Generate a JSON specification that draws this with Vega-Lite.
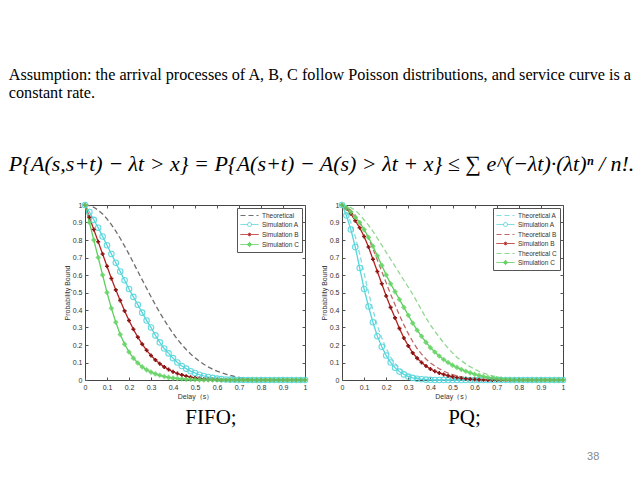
{
  "$schema": "https://vega.github.io/schema/vega-lite/v6.json",
  "background": "white",
  "padding": {"left": 8, "top": 67, "right": 0, "bottom": 0},
  "title": {"text": "38", "orient": "bottom", "anchor": "end", "fontSize": 11, "color": "#888888", "font": "Liberation Sans", "fontWeight": "normal", "offset": 22, "dx": -41},
  "datasets": {
    "fifo": [
      {"x":0,"Theoretical":1,"Simulation A":1,"Simulation B":1,"Simulation C":1},
      {"x":0.02,"Theoretical":0.997,"Simulation A":0.96,"Simulation B":0.93,"Simulation C":0.9},
      {"x":0.04,"Theoretical":0.987,"Simulation A":0.915,"Simulation B":0.86,"Simulation C":0.8},
      {"x":0.06,"Theoretical":0.971,"Simulation A":0.87,"Simulation B":0.79,"Simulation C":0.7},
      {"x":0.08,"Theoretical":0.949,"Simulation A":0.82,"Simulation B":0.72,"Simulation C":0.6},
      {"x":0.1,"Theoretical":0.921,"Simulation A":0.77,"Simulation B":0.65,"Simulation C":0.5},
      {"x":0.12,"Theoretical":0.888,"Simulation A":0.72,"Simulation B":0.58,"Simulation C":0.41},
      {"x":0.14,"Theoretical":0.851,"Simulation A":0.67,"Simulation B":0.515,"Simulation C":0.33},
      {"x":0.16,"Theoretical":0.81,"Simulation A":0.62,"Simulation B":0.455,"Simulation C":0.26},
      {"x":0.18,"Theoretical":0.765,"Simulation A":0.57,"Simulation B":0.395,"Simulation C":0.205},
      {"x":0.2,"Theoretical":0.719,"Simulation A":0.52,"Simulation B":0.34,"Simulation C":0.16},
      {"x":0.22,"Theoretical":0.67,"Simulation A":0.475,"Simulation B":0.29,"Simulation C":0.125},
      {"x":0.24,"Theoretical":0.621,"Simulation A":0.43,"Simulation B":0.245,"Simulation C":0.097},
      {"x":0.26,"Theoretical":0.572,"Simulation A":0.385,"Simulation B":0.205,"Simulation C":0.075},
      {"x":0.28,"Theoretical":0.524,"Simulation A":0.34,"Simulation B":0.17,"Simulation C":0.058},
      {"x":0.3,"Theoretical":0.476,"Simulation A":0.3,"Simulation B":0.14,"Simulation C":0.045},
      {"x":0.32,"Theoretical":0.429,"Simulation A":0.255,"Simulation B":0.115,"Simulation C":0.035},
      {"x":0.34,"Theoretical":0.385,"Simulation A":0.215,"Simulation B":0.093,"Simulation C":0.027},
      {"x":0.36,"Theoretical":0.343,"Simulation A":0.18,"Simulation B":0.075,"Simulation C":0.02},
      {"x":0.38,"Theoretical":0.304,"Simulation A":0.152,"Simulation B":0.06,"Simulation C":0.015},
      {"x":0.4,"Theoretical":0.267,"Simulation A":0.125,"Simulation B":0.047,"Simulation C":0.011},
      {"x":0.42,"Theoretical":0.233,"Simulation A":0.1,"Simulation B":0.037,"Simulation C":0.008},
      {"x":0.44,"Theoretical":0.202,"Simulation A":0.08,"Simulation B":0.029,"Simulation C":0.006},
      {"x":0.46,"Theoretical":0.174,"Simulation A":0.065,"Simulation B":0.022,"Simulation C":0.004},
      {"x":0.48,"Theoretical":0.149,"Simulation A":0.05,"Simulation B":0.016,"Simulation C":0.003},
      {"x":0.5,"Theoretical":0.127,"Simulation A":0.04,"Simulation B":0.012,"Simulation C":0.002},
      {"x":0.52,"Theoretical":0.107,"Simulation A":0.03,"Simulation B":0.008,"Simulation C":0.001},
      {"x":0.54,"Theoretical":0.09,"Simulation A":0.023,"Simulation B":0.005,"Simulation C":0},
      {"x":0.56,"Theoretical":0.075,"Simulation A":0.017,"Simulation B":0.003,"Simulation C":0},
      {"x":0.58,"Theoretical":0.062,"Simulation A":0.012,"Simulation B":0.002,"Simulation C":0},
      {"x":0.6,"Theoretical":0.051,"Simulation A":0.008,"Simulation B":0.001,"Simulation C":0},
      {"x":0.62,"Theoretical":0.042,"Simulation A":0.005,"Simulation B":0,"Simulation C":0},
      {"x":0.64,"Theoretical":0.034,"Simulation A":0.003,"Simulation B":0,"Simulation C":0},
      {"x":0.66,"Theoretical":0.027,"Simulation A":0.002,"Simulation B":0,"Simulation C":0},
      {"x":0.68,"Theoretical":0.02,"Simulation A":0.001,"Simulation B":0,"Simulation C":0},
      {"x":0.7,"Theoretical":0.015,"Simulation A":0,"Simulation B":0,"Simulation C":0},
      {"x":0.72,"Theoretical":0.01,"Simulation A":0,"Simulation B":0,"Simulation C":0},
      {"x":0.74,"Theoretical":0.006,"Simulation A":0,"Simulation B":0,"Simulation C":0},
      {"x":0.76,"Theoretical":0.004,"Simulation A":0,"Simulation B":0,"Simulation C":0},
      {"x":0.78,"Theoretical":0.002,"Simulation A":0,"Simulation B":0,"Simulation C":0},
      {"x":0.8,"Theoretical":0.001,"Simulation A":0,"Simulation B":0,"Simulation C":0},
      {"x":0.82,"Theoretical":0,"Simulation A":0,"Simulation B":0,"Simulation C":0},
      {"x":0.84,"Theoretical":0,"Simulation A":0,"Simulation B":0,"Simulation C":0},
      {"x":0.86,"Theoretical":0,"Simulation A":0,"Simulation B":0,"Simulation C":0},
      {"x":0.88,"Theoretical":0,"Simulation A":0,"Simulation B":0,"Simulation C":0},
      {"x":0.9,"Theoretical":0,"Simulation A":0,"Simulation B":0,"Simulation C":0},
      {"x":0.92,"Theoretical":0,"Simulation A":0,"Simulation B":0,"Simulation C":0},
      {"x":0.94,"Theoretical":0,"Simulation A":0,"Simulation B":0,"Simulation C":0},
      {"x":0.96,"Theoretical":0,"Simulation A":0,"Simulation B":0,"Simulation C":0},
      {"x":0.98,"Theoretical":0,"Simulation A":0,"Simulation B":0,"Simulation C":0},
      {"x":1,"Theoretical":0,"Simulation A":0,"Simulation B":0,"Simulation C":0}
    ],
    "pq": [
      {"x":0,"Theoretical A":1,"Simulation A":1,"Theoretical B":1,"Simulation B":1,"Theoretical C":1,"Simulation C":1},
      {"x":0.02,"Theoretical A":0.96,"Simulation A":0.94,"Theoretical B":0.99,"Simulation B":0.98,"Theoretical C":0.995,"Simulation C":0.985},
      {"x":0.04,"Theoretical A":0.9,"Simulation A":0.86,"Theoretical B":0.97,"Simulation B":0.95,"Theoretical C":0.985,"Simulation C":0.96},
      {"x":0.06,"Theoretical A":0.82,"Simulation A":0.76,"Theoretical B":0.94,"Simulation B":0.91,"Theoretical C":0.97,"Simulation C":0.93},
      {"x":0.08,"Theoretical A":0.72,"Simulation A":0.64,"Theoretical B":0.9,"Simulation B":0.87,"Theoretical C":0.945,"Simulation C":0.9},
      {"x":0.1,"Theoretical A":0.61,"Simulation A":0.52,"Theoretical B":0.86,"Simulation B":0.82,"Theoretical C":0.915,"Simulation C":0.86},
      {"x":0.12,"Theoretical A":0.5,"Simulation A":0.42,"Theoretical B":0.81,"Simulation B":0.76,"Theoretical C":0.885,"Simulation C":0.815},
      {"x":0.14,"Theoretical A":0.4,"Simulation A":0.33,"Theoretical B":0.75,"Simulation B":0.69,"Theoretical C":0.85,"Simulation C":0.765},
      {"x":0.16,"Theoretical A":0.31,"Simulation A":0.25,"Theoretical B":0.685,"Simulation B":0.62,"Theoretical C":0.81,"Simulation C":0.71},
      {"x":0.18,"Theoretical A":0.24,"Simulation A":0.19,"Theoretical B":0.62,"Simulation B":0.55,"Theoretical C":0.77,"Simulation C":0.655},
      {"x":0.2,"Theoretical A":0.18,"Simulation A":0.14,"Theoretical B":0.555,"Simulation B":0.48,"Theoretical C":0.73,"Simulation C":0.6},
      {"x":0.22,"Theoretical A":0.13,"Simulation A":0.1,"Theoretical B":0.49,"Simulation B":0.415,"Theoretical C":0.69,"Simulation C":0.55},
      {"x":0.24,"Theoretical A":0.095,"Simulation A":0.07,"Theoretical B":0.43,"Simulation B":0.355,"Theoretical C":0.65,"Simulation C":0.505},
      {"x":0.26,"Theoretical A":0.067,"Simulation A":0.048,"Theoretical B":0.37,"Simulation B":0.295,"Theoretical C":0.61,"Simulation C":0.46},
      {"x":0.28,"Theoretical A":0.046,"Simulation A":0.032,"Theoretical B":0.315,"Simulation B":0.24,"Theoretical C":0.57,"Simulation C":0.415},
      {"x":0.3,"Theoretical A":0.031,"Simulation A":0.02,"Theoretical B":0.265,"Simulation B":0.195,"Theoretical C":0.53,"Simulation C":0.37},
      {"x":0.32,"Theoretical A":0.02,"Simulation A":0.012,"Theoretical B":0.22,"Simulation B":0.155,"Theoretical C":0.49,"Simulation C":0.325},
      {"x":0.34,"Theoretical A":0.012,"Simulation A":0.007,"Theoretical B":0.18,"Simulation B":0.125,"Theoretical C":0.445,"Simulation C":0.285},
      {"x":0.36,"Theoretical A":0.007,"Simulation A":0.004,"Theoretical B":0.148,"Simulation B":0.1,"Theoretical C":0.4,"Simulation C":0.25},
      {"x":0.38,"Theoretical A":0.004,"Simulation A":0.002,"Theoretical B":0.12,"Simulation B":0.08,"Theoretical C":0.355,"Simulation C":0.215},
      {"x":0.4,"Theoretical A":0.002,"Simulation A":0.001,"Theoretical B":0.098,"Simulation B":0.063,"Theoretical C":0.315,"Simulation C":0.185},
      {"x":0.42,"Theoretical A":0.001,"Simulation A":0,"Theoretical B":0.08,"Simulation B":0.05,"Theoretical C":0.28,"Simulation C":0.16},
      {"x":0.44,"Theoretical A":0,"Simulation A":0,"Theoretical B":0.064,"Simulation B":0.04,"Theoretical C":0.245,"Simulation C":0.137},
      {"x":0.46,"Theoretical A":0,"Simulation A":0,"Theoretical B":0.051,"Simulation B":0.032,"Theoretical C":0.212,"Simulation C":0.117},
      {"x":0.48,"Theoretical A":0,"Simulation A":0,"Theoretical B":0.04,"Simulation B":0.025,"Theoretical C":0.182,"Simulation C":0.1},
      {"x":0.5,"Theoretical A":0,"Simulation A":0,"Theoretical B":0.031,"Simulation B":0.019,"Theoretical C":0.155,"Simulation C":0.085},
      {"x":0.52,"Theoretical A":0,"Simulation A":0,"Theoretical B":0.024,"Simulation B":0.014,"Theoretical C":0.13,"Simulation C":0.072},
      {"x":0.54,"Theoretical A":0,"Simulation A":0,"Theoretical B":0.018,"Simulation B":0.01,"Theoretical C":0.11,"Simulation C":0.06},
      {"x":0.56,"Theoretical A":0,"Simulation A":0,"Theoretical B":0.013,"Simulation B":0.007,"Theoretical C":0.092,"Simulation C":0.05},
      {"x":0.58,"Theoretical A":0,"Simulation A":0,"Theoretical B":0.009,"Simulation B":0.005,"Theoretical C":0.076,"Simulation C":0.041},
      {"x":0.6,"Theoretical A":0,"Simulation A":0,"Theoretical B":0.006,"Simulation B":0.003,"Theoretical C":0.062,"Simulation C":0.033},
      {"x":0.62,"Theoretical A":0,"Simulation A":0,"Theoretical B":0.004,"Simulation B":0.002,"Theoretical C":0.05,"Simulation C":0.026},
      {"x":0.64,"Theoretical A":0,"Simulation A":0,"Theoretical B":0.002,"Simulation B":0.001,"Theoretical C":0.04,"Simulation C":0.02},
      {"x":0.66,"Theoretical A":0,"Simulation A":0,"Theoretical B":0.001,"Simulation B":0,"Theoretical C":0.031,"Simulation C":0.015},
      {"x":0.68,"Theoretical A":0,"Simulation A":0,"Theoretical B":0,"Simulation B":0,"Theoretical C":0.024,"Simulation C":0.011},
      {"x":0.7,"Theoretical A":0,"Simulation A":0,"Theoretical B":0,"Simulation B":0,"Theoretical C":0.018,"Simulation C":0.008},
      {"x":0.72,"Theoretical A":0,"Simulation A":0,"Theoretical B":0,"Simulation B":0,"Theoretical C":0.013,"Simulation C":0.005},
      {"x":0.74,"Theoretical A":0,"Simulation A":0,"Theoretical B":0,"Simulation B":0,"Theoretical C":0.009,"Simulation C":0.003},
      {"x":0.76,"Theoretical A":0,"Simulation A":0,"Theoretical B":0,"Simulation B":0,"Theoretical C":0.006,"Simulation C":0.002},
      {"x":0.78,"Theoretical A":0,"Simulation A":0,"Theoretical B":0,"Simulation B":0,"Theoretical C":0.004,"Simulation C":0.001},
      {"x":0.8,"Theoretical A":0,"Simulation A":0,"Theoretical B":0,"Simulation B":0,"Theoretical C":0.002,"Simulation C":0},
      {"x":0.82,"Theoretical A":0,"Simulation A":0,"Theoretical B":0,"Simulation B":0,"Theoretical C":0.001,"Simulation C":0},
      {"x":0.84,"Theoretical A":0,"Simulation A":0,"Theoretical B":0,"Simulation B":0,"Theoretical C":0,"Simulation C":0},
      {"x":0.86,"Theoretical A":0,"Simulation A":0,"Theoretical B":0,"Simulation B":0,"Theoretical C":0,"Simulation C":0},
      {"x":0.88,"Theoretical A":0,"Simulation A":0,"Theoretical B":0,"Simulation B":0,"Theoretical C":0,"Simulation C":0},
      {"x":0.9,"Theoretical A":0,"Simulation A":0,"Theoretical B":0,"Simulation B":0,"Theoretical C":0,"Simulation C":0},
      {"x":0.92,"Theoretical A":0,"Simulation A":0,"Theoretical B":0,"Simulation B":0,"Theoretical C":0,"Simulation C":0},
      {"x":0.94,"Theoretical A":0,"Simulation A":0,"Theoretical B":0,"Simulation B":0,"Theoretical C":0,"Simulation C":0},
      {"x":0.96,"Theoretical A":0,"Simulation A":0,"Theoretical B":0,"Simulation B":0,"Theoretical C":0,"Simulation C":0},
      {"x":0.98,"Theoretical A":0,"Simulation A":0,"Theoretical B":0,"Simulation B":0,"Theoretical C":0,"Simulation C":0},
      {"x":1,"Theoretical A":0,"Simulation A":0,"Theoretical B":0,"Simulation B":0,"Theoretical C":0,"Simulation C":0}
    ]
  },
  "vconcat": [
    {
      "title": {
        "text": ["Assumption: the arrival processes of A, B, C follow Poisson distributions, and service curve is a", "constant rate."],
        "subtitle": "P{A(s,s+t) − λt > x} = P{A(s+t) − A(s) > λt + x} ≤  ∑ e^(−λt)·(λt)ⁿ / n!.",
        "anchor": "start",
        "dx": -54,
        "offset": 25,
        "font": "Liberation Serif",
        "fontSize": 16.2,
        "fontWeight": "normal",
        "color": "#000000",
        "lineHeight": 18,
        "subtitleFont": "Liberation Serif",
        "subtitleFontSize": 22,
        "subtitleFontStyle": "italic",
        "subtitleColor": "#000000",
        "subtitlePadding": 52
      },
      "spacing": 8,
      "resolve": {"scale": {"color": "independent", "strokeDash": "independent"}, "legend": {"color": "independent"}},
      "hconcat": [
        {
          "width": 220,
          "height": 175,
          "title": {"text": "FIFO;", "orient": "bottom", "dx": 16, "offset": 8, "font": "Liberation Serif", "fontSize": 21, "fontWeight": "normal", "color": "#000000"},
          "data": {"name": "fifo"},
          "transform": [{"fold": ["Theoretical", "Simulation A", "Simulation B", "Simulation C"], "as": ["series", "v"]}],
          "layer": [
            {
              "mark": {"type": "line", "strokeWidth": 1.3},
              "encoding": {
                "x": {"field": "x", "type": "quantitative", "scale": {"domain": [0, 1], "nice": false}, "axis": {"orient": "bottom", "title": "Delay（s）", "values": [0, 0.1, 0.2, 0.3, 0.4, 0.5, 0.6, 0.7, 0.8, 0.9, 1], "format": "~g"}},
                "y": {"field": "v", "type": "quantitative", "scale": {"domain": [0, 1], "nice": false}, "axis": {"orient": "left", "title": "Probability Bound", "values": [0, 0.1, 0.2, 0.3, 0.4, 0.5, 0.6, 0.7, 0.8, 0.9, 1], "format": "~g"}},
                "color": {"field": "series", "type": "nominal", "scale": {"domain": ["Theoretical", "Simulation A", "Simulation B", "Simulation C"], "range": ["#6e6e6e", "#55d6dc", "#b3211e", "#5ccf5c"]},
                  "legend": {"title": null, "encode": {"symbols": {"update": {
                    "strokeDash": {"signal": "indexof(datum.value, 'Theoretical') === 0 ? [4, 2] : [1, 0]"},
                    "shape": {"signal": "datum.value === 'Simulation A' ? 'M-1,0H0.75M1.75,0H3.5M0.75,0A0.5,0.5 0 1,0 1.75,0A0.5,0.5 0 1,0 0.75,0' : datum.value === 'Simulation B' ? 'M-1,0H3.5M0.9,-0.35L1.6,0.35M0.9,0.35L1.6,-0.35M1.25,-0.45V0.45' : datum.value === 'Simulation C' ? 'M-1,0H0.7M1.8,0H3.5M1.25,-0.55L1.8,0L1.25,0.55L0.7,0Z' : 'M-1,0H3.5'"},
                    "fill": {"signal": "datum.value === 'Simulation C' ? '#66d466' : 'transparent'"}
                  }}}}},
                "strokeDash": {"field": "series", "type": "nominal", "scale": {"domain": ["Theoretical", "Simulation A", "Simulation B", "Simulation C"], "range": [[5, 3], [1, 0], [1, 0], [1, 0]]}, "legend": null}
              }
            },
            {
              "transform": [{"filter": "datum.series === 'Simulation A'"}],
              "mark": {"type": "point", "shape": "circle", "filled": false, "color": "#55d6dc", "size": 30, "strokeWidth": 1.1, "opacity": 0.9},
              "encoding": {"x": {"field": "x", "type": "quantitative", "axis": null}, "y": {"field": "v", "type": "quantitative", "axis": null}}
            },
            {
              "transform": [{"filter": "datum.series === 'Simulation B'"}],
              "mark": {"type": "point", "shape": "cross", "filled": true, "color": "#8b1414", "size": 16, "opacity": 1},
              "encoding": {"x": {"field": "x", "type": "quantitative", "axis": null}, "y": {"field": "v", "type": "quantitative", "axis": null}}
            },
            {
              "transform": [{"filter": "datum.series === 'Simulation C'"}],
              "mark": {"type": "point", "shape": "diamond", "filled": true, "color": "#66d466", "size": 32, "opacity": 0.85},
              "encoding": {"x": {"field": "x", "type": "quantitative", "axis": null}, "y": {"field": "v", "type": "quantitative", "axis": null}}
            },
            {
              "mark": {"type": "point", "opacity": 0},
              "encoding": {
                "x": {"field": "x", "type": "quantitative", "axis": {"orient": "top", "labels": false, "title": null, "values": [0, 0.1, 0.2, 0.3, 0.4, 0.5, 0.6, 0.7, 0.8, 0.9, 1]}},
                "y": {"field": "v", "type": "quantitative", "axis": {"orient": "right", "labels": false, "title": null, "values": [0, 0.1, 0.2, 0.3, 0.4, 0.5, 0.6, 0.7, 0.8, 0.9, 1]}}
              }
            }
          ],
          "resolve": {"axis": {"x": "independent", "y": "independent"}}
        },
        {
          "width": 221,
          "height": 175,
          "title": {"text": "PQ;", "orient": "bottom", "dx": 12, "offset": 8, "font": "Liberation Serif", "fontSize": 21, "fontWeight": "normal", "color": "#000000"},
          "data": {"name": "pq"},
          "transform": [{"fold": ["Theoretical A", "Simulation A", "Theoretical B", "Simulation B", "Theoretical C", "Simulation C"], "as": ["series", "v"]}],
          "layer": [
            {
              "mark": {"type": "line", "strokeWidth": 1.3},
              "encoding": {
                "x": {"field": "x", "type": "quantitative", "scale": {"domain": [0, 1], "nice": false}, "axis": {"orient": "bottom", "title": "Delay（s）", "values": [0, 0.1, 0.2, 0.3, 0.4, 0.5, 0.6, 0.7, 0.8, 0.9, 1], "format": "~g"}},
                "y": {"field": "v", "type": "quantitative", "scale": {"domain": [0, 1], "nice": false}, "axis": {"orient": "left", "title": "Probability Bound", "values": [0, 0.1, 0.2, 0.3, 0.4, 0.5, 0.6, 0.7, 0.8, 0.9, 1], "format": "~g"}},
                "color": {"field": "series", "type": "nominal", "scale": {"domain": ["Theoretical A", "Simulation A", "Theoretical B", "Simulation B", "Theoretical C", "Simulation C"], "range": ["#86dde0", "#55d6dc", "#c06868", "#b3211e", "#8fd68f", "#5ccf5c"]},
                  "legend": {"title": null, "encode": {"symbols": {"update": {
                    "strokeDash": {"signal": "indexof(datum.value, 'Theoretical') === 0 ? [4, 2] : [1, 0]"},
                    "shape": {"signal": "datum.value === 'Simulation A' ? 'M-1,0H0.75M1.75,0H3.5M0.75,0A0.5,0.5 0 1,0 1.75,0A0.5,0.5 0 1,0 0.75,0' : datum.value === 'Simulation B' ? 'M-1,0H3.5M0.9,-0.35L1.6,0.35M0.9,0.35L1.6,-0.35M1.25,-0.45V0.45' : datum.value === 'Simulation C' ? 'M-1,0H0.7M1.8,0H3.5M1.25,-0.55L1.8,0L1.25,0.55L0.7,0Z' : 'M-1,0H3.5'"},
                    "fill": {"signal": "datum.value === 'Simulation C' ? '#66d466' : 'transparent'"}
                  }}}}},
                "strokeDash": {"field": "series", "type": "nominal", "scale": {"domain": ["Theoretical A", "Simulation A", "Theoretical B", "Simulation B", "Theoretical C", "Simulation C"], "range": [[5, 3], [1, 0], [5, 3], [1, 0], [5, 3], [1, 0]]}, "legend": null}
              }
            },
            {
              "transform": [{"filter": "datum.series === 'Simulation A'"}],
              "mark": {"type": "point", "shape": "circle", "filled": false, "color": "#55d6dc", "size": 30, "strokeWidth": 1.1, "opacity": 0.9},
              "encoding": {"x": {"field": "x", "type": "quantitative", "axis": null}, "y": {"field": "v", "type": "quantitative", "axis": null}}
            },
            {
              "transform": [{"filter": "datum.series === 'Simulation B'"}],
              "mark": {"type": "point", "shape": "cross", "filled": true, "color": "#8b1414", "size": 16, "opacity": 1},
              "encoding": {"x": {"field": "x", "type": "quantitative", "axis": null}, "y": {"field": "v", "type": "quantitative", "axis": null}}
            },
            {
              "transform": [{"filter": "datum.series === 'Simulation C'"}],
              "mark": {"type": "point", "shape": "diamond", "filled": true, "color": "#66d466", "size": 32, "opacity": 0.85},
              "encoding": {"x": {"field": "x", "type": "quantitative", "axis": null}, "y": {"field": "v", "type": "quantitative", "axis": null}}
            },
            {
              "mark": {"type": "point", "opacity": 0},
              "encoding": {
                "x": {"field": "x", "type": "quantitative", "axis": {"orient": "top", "labels": false, "title": null, "values": [0, 0.1, 0.2, 0.3, 0.4, 0.5, 0.6, 0.7, 0.8, 0.9, 1]}},
                "y": {"field": "v", "type": "quantitative", "axis": {"orient": "right", "labels": false, "title": null, "values": [0, 0.1, 0.2, 0.3, 0.4, 0.5, 0.6, 0.7, 0.8, 0.9, 1]}}
              }
            }
          ],
          "resolve": {"axis": {"x": "independent", "y": "independent"}}
        }
      ]
    }
  ],
  "config": {
    "view": {"stroke": "#444444", "strokeWidth": 1},
    "axis": {
      "grid": false,
      "domain": false,
      "labelFont": "Liberation Sans",
      "labelFontSize": 7,
      "labelColor": "#333333",
      "labelFlush": false,
      "labelPadding": 6,
      "titleFont": "Liberation Sans",
      "titleFontSize": 7,
      "titleFontWeight": "normal",
      "titleColor": "#333333",
      "titlePadding": 2,
      "tickColor": "#555555",
      "tickSize": -3
    },
    "legend": {
      "orient": "top-right",
      "offset": 3,
      "fillColor": "white",
      "strokeColor": "#555555",
      "padding": 3,
      "labelFont": "Liberation Sans",
      "labelFontSize": 6.5,
      "labelColor": "#333333",
      "labelOffset": 13,
      "symbolType": "stroke",
      "symbolSize": 64,
      "symbolStrokeWidth": 1,
      "rowPadding": 1,
      "titlePadding": 0
    }
  }
}
